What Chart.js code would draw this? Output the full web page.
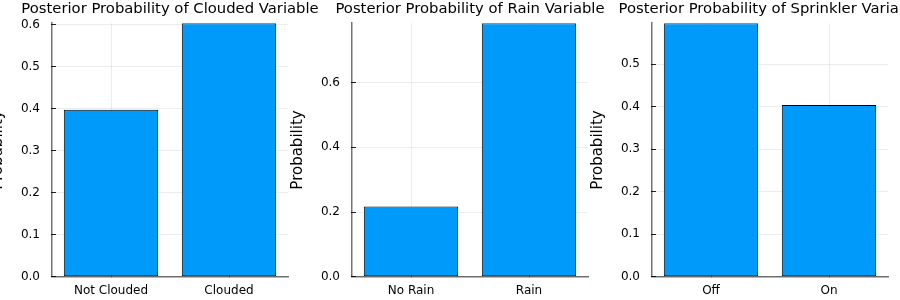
<!DOCTYPE html>
<html>
<head>
<meta charset="utf-8">
<script src="https://cdn.jsdelivr.net/npm/chart.js@4"></script>
<style>
  html, body { margin: 0; padding: 0; background: #fff; overflow: hidden; }
  #wrap { position: relative; width: 900px; height: 300px; }
  #wrap canvas { position: absolute; left: -20px; top: 0; }
</style>
</head>
<body>
<div id="wrap">
  <canvas id="clouded" width="940" height="300"></canvas>
  <canvas id="rain" width="940" height="300"></canvas>
  <canvas id="sprinkler" width="940" height="300"></canvas>
</div>
<script>
const cloudedLabels = ["Not Clouded", "Clouded"];
const cloudedValues = [0.397, 0.603];
const cloudedTicks = 0.1;

const rainLabels = ["No Rain", "Rain"];
const rainValues = [0.217, 0.783];
const rainTicks = 0.2;

const sprinklerLabels = ["Off", "On"];
const sprinklerValues = [0.596, 0.404];
const sprinklerTicks = 0.1;

const FONT = "DejaVu Sans";
const BAR = "#009AFA";

// draws the subplot title centred over the plot area (may run past it, like the original)
const plotTitle = {
  id: "plotTitle",
  afterDraw(chart, args, opts) {
    const { ctx, chartArea } = chart;
    ctx.save();
    ctx.font = "14.8px " + FONT;
    ctx.fillStyle = "#000";
    ctx.textAlign = "center";
    ctx.textBaseline = "middle";
    ctx.fillText(opts.text, (chartArea.left + chartArea.right) / 2, 9);
    ctx.restore();
  },
};

function makePanel(id, title, labels, values, step, padLeft, padRight) {
  const ctx = document.getElementById(id).getContext("2d");
  return new Chart(ctx, {
    type: "bar",
    data: {
      labels: labels,
      datasets: [
        {
          data: values,
          backgroundColor: BAR,
          borderColor: "#000",
          borderWidth: 1,
          borderSkipped: false,
          categoryPercentage: 1,
          barPercentage: 0.8,
        },
      ],
    },
    options: {
      responsive: false,
      animation: false,
      layout: { padding: { left: padLeft, right: padRight, top: 22, bottom: 0 } },
      plugins: {
        legend: { display: false },
        tooltip: { enabled: false },
        plotTitle: { text: title },
      },
      scales: {
        x: {
          offset: true,
          grid: {
            offset: false,
            color: "rgba(0,0,0,0.07)",
            tickLength: -4,
            tickColor: "rgba(0,0,0,0.35)",
          },
          border: { color: "rgba(0,0,0,0.55)", width: 1.5 },
          ticks: { color: "#000", font: { family: FONT, size: 12 }, padding: 11 },
          afterFit(scale) { scale.height = 23; },
        },
        y: {
          min: 0,
          max: Math.max(...values),
          grid: {
            color: "rgba(0,0,0,0.07)",
            tickLength: -4,
            tickColor: "#222",
            tickWidth: 1,
          },
          border: { color: "rgba(0,0,0,0.55)", width: 1.5 },
          ticks: {
            stepSize: step,
            includeBounds: false,
            color: "#000",
            font: { family: FONT, size: 12 },
            padding: 16,
            callback: (v) => v.toFixed(1),
          },
          title: {
            display: true,
            text: "Probability",
            color: "#000",
            font: { family: FONT, size: 15 },
            padding: 0,
          },
          afterFit(scale) { scale.width = 62.5; },
        },
      },
    },
    plugins: [plotTitle],
  });
}

makePanel("clouded", "Posterior Probability of Clouded Variable", cloudedLabels, cloudedValues, cloudedTicks, 9.5, 632);
makePanel("rain", "Posterior Probability of Rain Variable", rainLabels, rainValues, rainTicks, 309.5, 332);
makePanel("sprinkler", "Posterior Probability of Sprinkler Variable", sprinklerLabels, sprinklerValues, sprinklerTicks, 609.5, 32);
</script>
</body>
</html>
